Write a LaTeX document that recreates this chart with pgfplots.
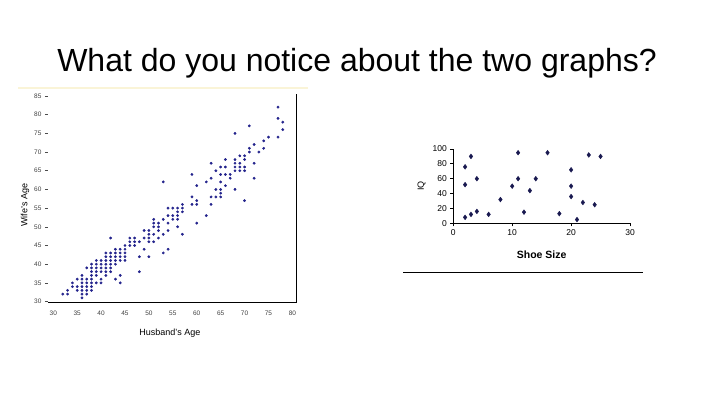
\documentclass[border=0pt]{standalone}
\usepackage{pgfplots}
\pgfplotsset{compat=1.18}
\usepackage{fontspec}
\setmainfont{Liberation Sans}
\definecolor{ptblue}{RGB}{35,35,140}
\definecolor{ptnavy}{RGB}{25,25,80}
\definecolor{paleyellow}{RGB}{250,244,215}
\begin{document}
\begin{tikzpicture}
\useasboundingbox (0,0) rectangle (720pt,405pt);

% title
\node[anchor=base, font=\fontsize{32}{36}\selectfont] at (357pt,333pt) {What do you notice about the two graphs?};
\draw[paleyellow, line width=1.5pt] (18pt,317pt) -- (308pt,317pt);

% left chart: husband vs wife age
\begin{axis}[
    at={(48pt,102.3pt)}, anchor=south west,
    scale only axis, width=248.7pt, height=208.6pt,
    xmin=28.9, xmax=80.9, ymin=29.7, ymax=85.5,
    xtick={30,35,...,80}, ytick={30,35,...,85},
    axis x line*=bottom, axis y line*=left,
    y axis line style={draw=none},
    x axis line style={black, line width=0.8pt, -},
    x tick style={draw=none},
    y tick style={black!70, line width=0.6pt},
    tick align=outside, major tick length=3pt,
    /pgf/number format/assume math mode=true,
    tick label style={font=\fontsize{6.5}{7}\selectfont, text=black!75},
    xticklabel style={yshift=-1.5pt},
    xlabel={Husband's Age}, ylabel={Wife's Age},
    xlabel style={at={(axis description cs:0.49,0)}, anchor=center, yshift=-30.6pt, font=\fontsize{9}{10}\selectfont},
    ylabel style={at={(axis description cs:0,0.468)}, anchor=center, yshift=23pt, font=\fontsize{9}{10}\selectfont},
    clip=false,
]
\addplot[only marks, mark=*, mark size=1.2pt, color=ptblue] coordinates {
(77,82) (77,79) (78,78) (78,76) (77,74) (71,77) (68,75) (75,74) (74,73) (74,71)
(72,72) (71,71) (71,70) (73,70) (72,67) (72,63) (70,57) (69,69) (70,69) (70,68)
(68,68) (69,67) (68,67) (68,66) (69,66) (68,65) (69,65) (70,66) (70,65) (68,60)
(66,68) (66,66) (65,66) (65,64) (66,64) (67,64) (67,63) (64,65) (63,67) (63,63)
(62,62) (65,62) (65,60) (65,59) (65,58) (64,60) (66,61) (64,58) (63,58) (63,56)
(60,61) (60,57) (60,56) (59,64) (59,58) (59,56) (62,53) (60,51) (53,62) (57,56)
(57,55) (57,54) (56,55) (56,54) (56,53) (56,52) (55,55) (55,53) (55,52) (54,55)
(54,53) (54,51) (53,52) (52,51) (51,52) (52,50) (56,50) (57,48) (54,49) (53,48)
(52,49) (51,51) (51,50) (50,49) (50,48) (50,47) (51,48) (52,47) (51,46) (50,46)
(49,49) (49,47) (49,44) (48,46) (47,47) (47,46) (47,45) (46,47) (46,46) (46,45)
(45,45) (45,44) (45,43) (45,42) (45,41) (44,44) (44,43) (44,42) (44,41) (43,44)
(43,43) (43,42) (43,41) (43,40) (42,47) (42,43) (42,42) (42,41) (42,40) (42,39)
(42,38) (41,43) (41,42) (41,41) (41,40) (41,39) (41,38) (41,37) (40,41) (40,40)
(40,39) (40,38) (40,36) (40,35) (39,41) (39,40) (39,39) (39,38) (39,37) (39,35)
(38,40) (38,39) (38,38) (38,37) (38,36) (38,35) (38,34) (38,33) (37,39) (37,36)
(37,35) (37,34) (37,33) (37,32) (36,37) (36,36) (36,35) (36,34) (36,33) (36,32)
(36,31) (35,36) (35,34) (35,33) (34,35) (34,34) (33,33) (33,32) (32,32) (43,36)
(44,37) (44,35) (48,42) (48,38) (50,42) (53,43) (54,44)
};
\draw[black, line width=0.8pt] (rel axis cs:1,0) -- (rel axis cs:1,1);
\end{axis}

% right chart: shoe size vs IQ
\begin{axis}[
    at={(453.3pt,181.7pt)}, anchor=south west,
    scale only axis, width=176.7pt, height=74.3pt,
    xmin=0, xmax=30, ymin=0, ymax=100,
    xtick={0,10,20,30}, ytick={0,20,...,100},
    axis lines=left,
    axis line style={black, line width=0.8pt, -},
    tick style={black, line width=0.8pt},
    tick align=outside, major tick length=3pt,
    /pgf/number format/assume math mode=true,
    tick label style={font=\fontsize{8.5}{9}\selectfont},
    xlabel={\textbf{Shoe Size}}, ylabel={IQ},
    xlabel style={at={(axis description cs:0.5,0)}, anchor=center, yshift=-31.7pt, font=\fontsize{10.5}{12}\selectfont},
    ylabel style={at={(axis description cs:0,0.5)}, anchor=center, yshift=31.6pt, font=\fontsize{9}{10}\selectfont},
    clip=false,
]
\addplot[only marks, mark=diamond*, mark size=2.4pt, color=ptnavy] coordinates {
(2,8) (3,12) (4,16) (6,12) (2,76) (3,90) (2,52) (4,60) (8,32) (10,50)
(11,60) (11,95) (12,15) (13,44) (14,60) (16,95) (18,13) (20,72) (20,50) (20,36)
(21,5) (22,28) (23,92) (24,25) (25,90)
};
\end{axis}
\draw[black, line width=0.8pt] (403pt,133pt) -- (643pt,133pt);
\end{tikzpicture}
\end{document}
